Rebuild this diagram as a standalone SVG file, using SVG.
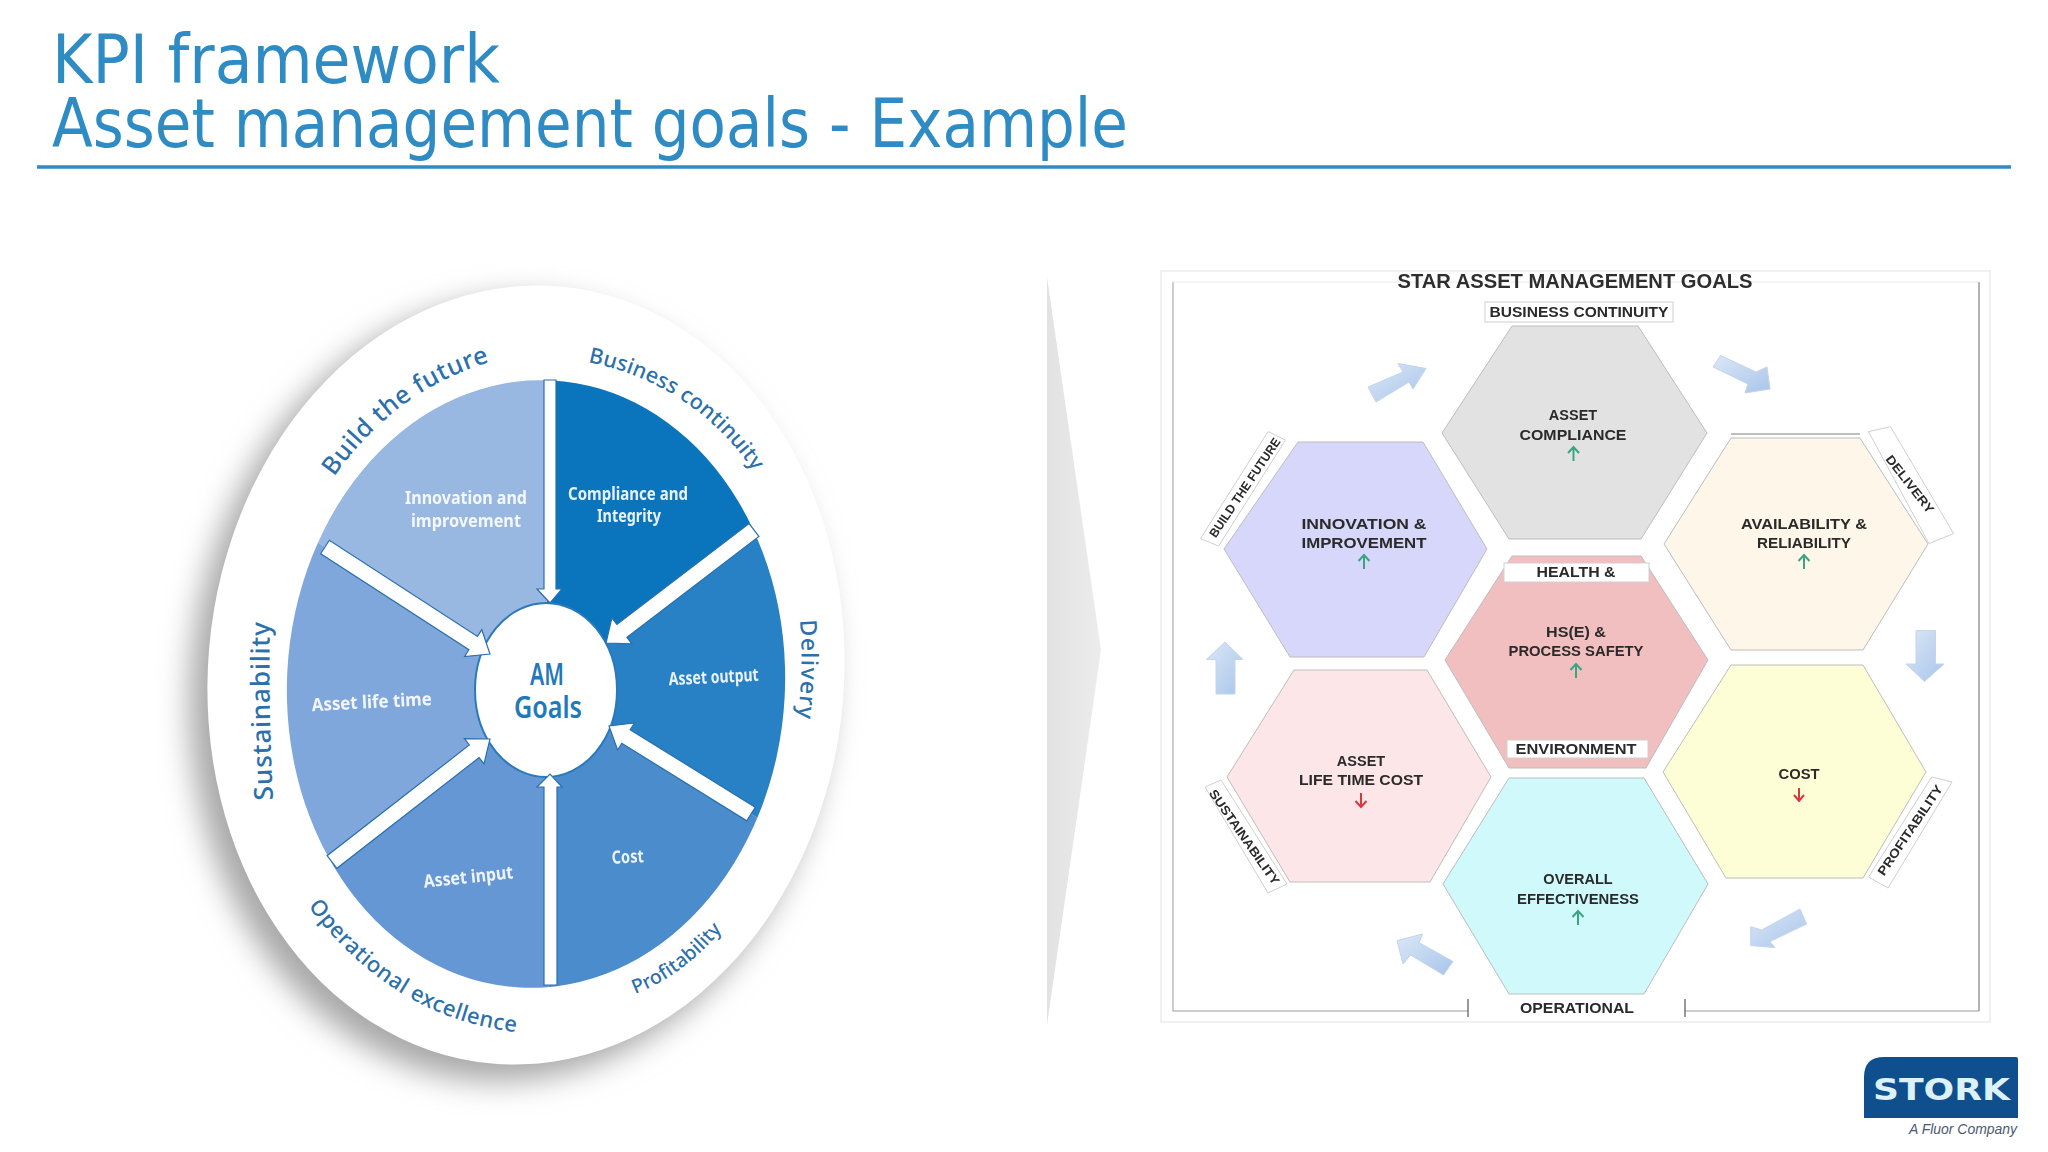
<svg xmlns="http://www.w3.org/2000/svg" xmlns:xlink="http://www.w3.org/1999/xlink" width="2048" height="1152" viewBox="0 0 2048 1152">
<defs>
<style>
.title{font-family:"DejaVu Sans","Noto Sans",sans-serif;font-size:68px;fill:#2e8bc4}
.ring{font-family:"Noto Sans","DejaVu Sans",sans-serif;font-weight:500;fill:#2c70ab}
.wl{font-family:"Noto Sans","DejaVu Sans",sans-serif;font-weight:700;font-size:18px;fill:#fff;text-anchor:middle;opacity:.9}
.am{font-family:"Noto Sans","DejaVu Sans",sans-serif;font-weight:600;font-size:31px;fill:#1f79bd;text-anchor:middle}
.h{font-family:"Liberation Sans",Arial,sans-serif;font-weight:700;font-size:14.5px;fill:#2a2a2a;text-anchor:middle}
.hex{stroke:#bdbdbd;stroke-width:1}
.lb{fill:#fff;stroke:#cfcfcf;stroke-width:1}
.wa{fill:#fff;stroke:#2a6fae;stroke-width:1.2}
.ba{fill:url(#bg);stroke:#c4d4ea;stroke-width:1}
.up{fill:none;stroke:#3aa582;stroke-width:2}
.dn{fill:none;stroke:#d9383c;stroke-width:2}
</style>
<linearGradient id="bg" x1="0" y1="0" x2="1" y2="1"><stop offset="0" stop-color="#dbe7f7"/><stop offset="1" stop-color="#a9c5ea"/></linearGradient>
<linearGradient id="chev" x1="0" y1="0" x2="1" y2="0"><stop offset="0" stop-color="#e2e2e2"/><stop offset="1" stop-color="#ececec"/></linearGradient>
<filter id="sh" x="-20%" y="-20%" width="140%" height="140%"><feGaussianBlur stdDeviation="15"/></filter>
<filter id="soft" x="-5%" y="-5%" width="110%" height="110%"><feGaussianBlur stdDeviation="0.5"/></filter>
<clipPath id="wheel"><ellipse cx="536" cy="684" rx="249" ry="304" transform="rotate(3 536 684)"/></clipPath>
<path id="p1" d="M334 477Q395 390 490 362L560 345"/>
<path id="p2" d="M588 362Q700 385 762 484L790 540"/>
<path id="p3" d="M800 620Q804 670 797 724L790 760"/>
<path id="p4" d="M635 994Q685 975 726 925L750 890"/>
<path id="p5" d="M308 906Q392 1018 516 1032L580 1040"/>
<path id="p6" d="M273 800Q268 700 270 605L272 570"/>
</defs>
<rect width="2048" height="1152" fill="#fff"/>
<g id="header">
<text class="title" x="52" y="83" textLength="448" lengthAdjust="spacingAndGlyphs">KPI framework</text>
<text class="title" x="52" y="147" textLength="1076" lengthAdjust="spacingAndGlyphs">Asset management goals - Example</text>
<line x1="37" y1="167" x2="2011" y2="167" stroke="#2e8bc4" stroke-width="3.5"/>
</g>
<g id="am-wheel">
<ellipse cx="510" cy="690" rx="320" ry="392" transform="rotate(5 510 690)" fill="#a8a8a8" filter="url(#sh)"/>
<ellipse cx="526" cy="675" rx="318" ry="390" transform="rotate(5 526 675)" fill="#fff"/>
<g clip-path="url(#wheel)">
<polygon points="546,690 550,280 962,370" fill="#0a74bd"/>
<polygon points="546,690 962,370 956,938" fill="#2880c5"/>
<polygon points="546,690 956,938 550,1100" fill="#4a8ccc"/>
<polygon points="546,690 550,1100 118,1034" fill="#6597d5"/>
<polygon points="546,690 118,1034 104,404" fill="#7fa7dc"/>
<polygon points="546,690 104,404 550,280" fill="#98b7e1"/>
</g>
<ellipse id="am-goals" cx="546" cy="690" rx="71" ry="87" fill="#fff" stroke="#2a79bd" stroke-width="2"/>
<text class="am" x="547" y="685" textLength="34" lengthAdjust="spacingAndGlyphs">AM</text>
<text class="am" x="548" y="718" textLength="68" lengthAdjust="spacingAndGlyphs">Goals</text>
<text class="wl" transform="translate(466,504)" textLength="122" lengthAdjust="spacingAndGlyphs" x="0" y="0">Innovation and</text>
<text class="wl" transform="translate(466,527)" textLength="110" lengthAdjust="spacingAndGlyphs" x="0" y="0">improvement</text>
<text class="wl" transform="translate(628,500)" textLength="120" lengthAdjust="spacingAndGlyphs" x="0" y="0">Compliance and</text>
<text class="wl" transform="translate(629,522)" textLength="64" lengthAdjust="spacingAndGlyphs" x="0" y="0">Integrity</text>
<text class="wl" transform="translate(714,683) rotate(-3)" textLength="90" lengthAdjust="spacingAndGlyphs" x="0" y="0">Asset output</text>
<text class="wl" transform="translate(372,708) rotate(-3)" textLength="120" lengthAdjust="spacingAndGlyphs" x="0" y="0">Asset life time</text>
<text class="wl" transform="translate(469,883) rotate(-6)" textLength="90" lengthAdjust="spacingAndGlyphs" x="0" y="0">Asset input</text>
<text class="wl" transform="translate(628,863) rotate(-3)" textLength="32" lengthAdjust="spacingAndGlyphs" x="0" y="0">Cost</text>
<text class="ring" font-size="25" letter-spacing="0.6"><textPath xlink:href="#p1" href="#p1">Build the future</textPath></text>
<text class="ring" font-size="21.500" letter-spacing="0.2"><textPath xlink:href="#p2" href="#p2">Business continuity</textPath></text>
<text class="ring" font-size="23" letter-spacing="1.2"><textPath xlink:href="#p3" href="#p3">Delivery</textPath></text>
<text class="ring" font-size="19.500" letter-spacing="0.1"><textPath xlink:href="#p4" href="#p4">Profitability</textPath></text>
<text class="ring" font-size="22" letter-spacing="0.5"><textPath xlink:href="#p5" href="#p5">Operational excellence</textPath></text>
<text class="ring" font-size="26" letter-spacing="0.8"><textPath xlink:href="#p6" href="#p6">Sustainability</textPath></text>
</g>
<polygon id="chevron" points="1047,277 1101,650 1047,1025" fill="url(#chev)"/>
<g id="star-panel" filter="url(#soft)">
<rect x="1161" y="271" width="829" height="751" fill="#fff" stroke="#ececec" stroke-width="1.5"/>
<polyline points="1173,282 1173,1011 1979,1011" fill="none" stroke="#bdbdbd" stroke-width="1.5"/>
<line x1="1979" y1="282" x2="1979" y2="1011" stroke="#999" stroke-width="1.5"/>
<line x1="1173" y1="282" x2="1979" y2="282" stroke="#eaeaea" stroke-width="1"/>
<rect x="1469" y="1005" width="215" height="12" fill="#fff"/>
<line x1="1468" y1="999" x2="1468" y2="1017" stroke="#777" stroke-width="1.5"/>
<line x1="1685" y1="999" x2="1685" y2="1017" stroke="#777" stroke-width="1.5"/>
<text id="star-title" x="1575" y="288" font-family="'Liberation Sans',Arial,sans-serif" font-weight="700" font-size="19.5" fill="#2d2d2d" text-anchor="middle" textLength="355" lengthAdjust="spacingAndGlyphs">STAR ASSET MANAGEMENT GOALS</text>
<g id="business-continuity"><rect class="lb" x="1485" y="302" width="188" height="20"/><text class="h" x="1579" y="317" textLength="179" lengthAdjust="spacingAndGlyphs">BUSINESS CONTINUITY</text></g>
<g id="operational"><text class="h" x="1577" y="1013" textLength="114" lengthAdjust="spacingAndGlyphs">OPERATIONAL</text></g>

<g id="asset-compliance">
<polygon class="hex" points="1512,326 1638,326 1707,433 1641,539 1509,539 1442,433" fill="#e2e2e2"/>
<text class="h" x="1573" y="420">ASSET</text><text class="h" x="1573" y="440" textLength="107" lengthAdjust="spacingAndGlyphs">COMPLIANCE</text>
<path class="up" d="M1573.500 461V448M1568 453L1573.500 447L1579 453"/>
</g>
<g id="innovation">
<polygon class="hex" points="1298,442 1423,442 1487,549 1424,657 1290,657 1224,549" fill="#d7d7fb"/>
<text class="h" x="1364" y="529" textLength="125" lengthAdjust="spacingAndGlyphs">INNOVATION &amp;</text><text class="h" x="1364" y="548" textLength="125" lengthAdjust="spacingAndGlyphs">IMPROVEMENT</text>
<path class="up" d="M1364 569V556M1358.500 561L1364 555L1369.500 561"/>
</g>
<g id="availability">
<line x1="1731" y1="434" x2="1860" y2="434" stroke="#a8a8a8" stroke-width="1.5"/>
<polygon class="hex" points="1731,438 1860,438 1928,544 1863,650 1731,650 1664,544" fill="#fdf6e9"/>
<text class="h" x="1804" y="529" textLength="126" lengthAdjust="spacingAndGlyphs">AVAILABILITY &amp;</text><text class="h" x="1804" y="548" textLength="94" lengthAdjust="spacingAndGlyphs">RELIABILITY</text>
<path class="up" d="M1804 569V556M1798.500 561L1804 555L1809.500 561"/>
</g>
<g id="hse">
<polygon class="hex" points="1512,556 1641,556 1708,660 1646,768 1509,768 1445,660" fill="#f2bfc0"/>
<g><rect class="lb" x="1504" y="563" width="145" height="19"/><text class="h" x="1576" y="577" textLength="79" lengthAdjust="spacingAndGlyphs">HEALTH &amp;</text></g>
<g><rect class="lb" x="1507" y="740" width="141" height="18"/><text class="h" x="1576" y="754" textLength="121" lengthAdjust="spacingAndGlyphs">ENVIRONMENT</text></g>
<text class="h" x="1576" y="637" textLength="60" lengthAdjust="spacingAndGlyphs">HS(E) &amp;</text><text class="h" x="1576" y="656" textLength="135" lengthAdjust="spacingAndGlyphs">PROCESS SAFETY</text>
<path class="up" d="M1576 678V665M1570.500 670L1576 664L1581.500 670"/>
</g>
<g id="life-time-cost">
<polygon class="hex" points="1294,670 1427,670 1491,777 1430,882 1290,882 1227,777" fill="#fde6e7"/>
<text class="h" x="1361" y="766">ASSET</text><text class="h" x="1361" y="785" textLength="124" lengthAdjust="spacingAndGlyphs">LIFE TIME COST</text>
<path class="dn" d="M1361 793V806M1355.500 801L1361 807L1366.500 801"/>
</g>
<g id="cost">
<polygon class="hex" points="1731,665 1863,665 1926,772 1863,878 1726,878 1663,772" fill="#fdfdd6"/>
<text class="h" x="1799" y="779" textLength="41" lengthAdjust="spacingAndGlyphs">COST</text>
<path class="dn" d="M1799 788V800M1794 795L1799 801L1804 795"/>
</g>
<g id="overall-effectiveness">
<polygon class="hex" points="1509,778 1644,778 1708,884 1644,994 1509,994 1443,884" fill="#cff9fb"/>
<text class="h" x="1578" y="884">OVERALL</text><text class="h" x="1578" y="904" textLength="122" lengthAdjust="spacingAndGlyphs">EFFECTIVENESS</text>
<path class="up" d="M1578 925V912M1572.500 917L1578 911L1583.500 917"/>
</g>
<g id="build-the-future"><polygon class="lb" points="1200.500,538.600 1268,431.600 1285.500,440 1218.600,546"/><text class="h" style="font-size:12.500px" transform="translate(1243,490) rotate(-56)" x="3" y="4.500" textLength="117" lengthAdjust="spacingAndGlyphs">BUILD THE FUTURE</text></g>
<g id="delivery"><polygon class="lb" points="1868.500,431.600 1890.500,426.700 1953.600,533.600 1929,543.600"/><text class="h" style="font-size:12.500px" transform="translate(1910,484) rotate(52)" x="0" y="4.500" textLength="70" lengthAdjust="spacingAndGlyphs">DELIVERY</text></g>
<g id="sustainability"><polygon class="lb" points="1205,787 1221,780 1287,884 1268,893"/><text class="h" style="font-size:12.500px" transform="translate(1244.500,837) rotate(55)" x="0" y="4.500" textLength="113" lengthAdjust="spacingAndGlyphs">SUSTAINABILITY</text></g>
<g id="profitability"><polygon class="lb" points="1868.600,877 1931.700,777 1952,782 1888,888"/><text class="h" style="font-size:12.500px" transform="translate(1910,830) rotate(-56)" x="0" y="4.500" textLength="106" lengthAdjust="spacingAndGlyphs">PROFITABILITY</text></g>
</g>
<g id="connectors">
<polygon class="wa" points="544,380 556,380 556,589 562,589 550,603 537,589 544,589"/>
<polygon class="wa" points="544,985 557,985 557,787 562,787 550,774 537,787 544,787"/>
<polygon class="wa" points="758.900,536.400 749.100,523.600 616.900,624.400 611.900,617.900 606,643 631.900,643.900 626.900,637.400"/>
<polygon class="wa" points="755.200,807.200 746.800,820.800 621.800,743.300 617.600,750 609,726 634.400,723 630.200,729.700"/>
<polygon class="wa" points="336.900,868.300 327.100,855.700 469.300,745 464.400,738.700 490,739 484,763.900 479.100,757.600"/>
<polygon class="wa" points="320.700,553.700 329.300,540.300 477.500,636.400 481.800,629.700 490,654 464.600,656.500 468.900,649.800"/>
<polygon class="ba" points="1368,387 1403,372 1398,363.500 1426,368.500 1413,389 1409,382 1376,402"/>
<polygon class="ba" points="1720.500,355.500 1756,372 1767,367 1770,389 1745,393 1748,384 1713,367"/>
<polygon class="ba" points="1916,630.600 1935.500,630.600 1935.500,664 1944,664 1924.500,681.400 1906,664 1916,664"/>
<polygon class="ba" points="1806.600,924 1770,941.600 1775,947.600 1750.700,945.600 1750.700,926.700 1761.600,930 1800,909"/>
<polygon class="ba" points="1453,961.500 1419,942.600 1422.600,934 1397,940.600 1403,964 1410.600,955 1443.500,975"/>
<polygon class="ba" points="1216,694 1235,694 1235,659.500 1243,659.500 1225,642 1206.500,659.500 1216,659.500"/>
</g>
<g id="stork-logo">
<path d="M1884 1057H2016Q2018 1057 2018 1059V1118H1864V1077Q1864 1057 1884 1057Z" fill="#104f8e"/>
<text x="1873" y="1100" font-family="'DejaVu Sans',sans-serif" font-weight="700" font-size="31" fill="#dcf1fa" textLength="137" lengthAdjust="spacingAndGlyphs">STORK</text>
<text x="1909" y="1134" font-family="'Liberation Sans',Arial,sans-serif" font-style="italic" font-size="14.500" fill="#4c5a70" textLength="108" lengthAdjust="spacingAndGlyphs">A Fluor Company</text>
</g>
</svg>
